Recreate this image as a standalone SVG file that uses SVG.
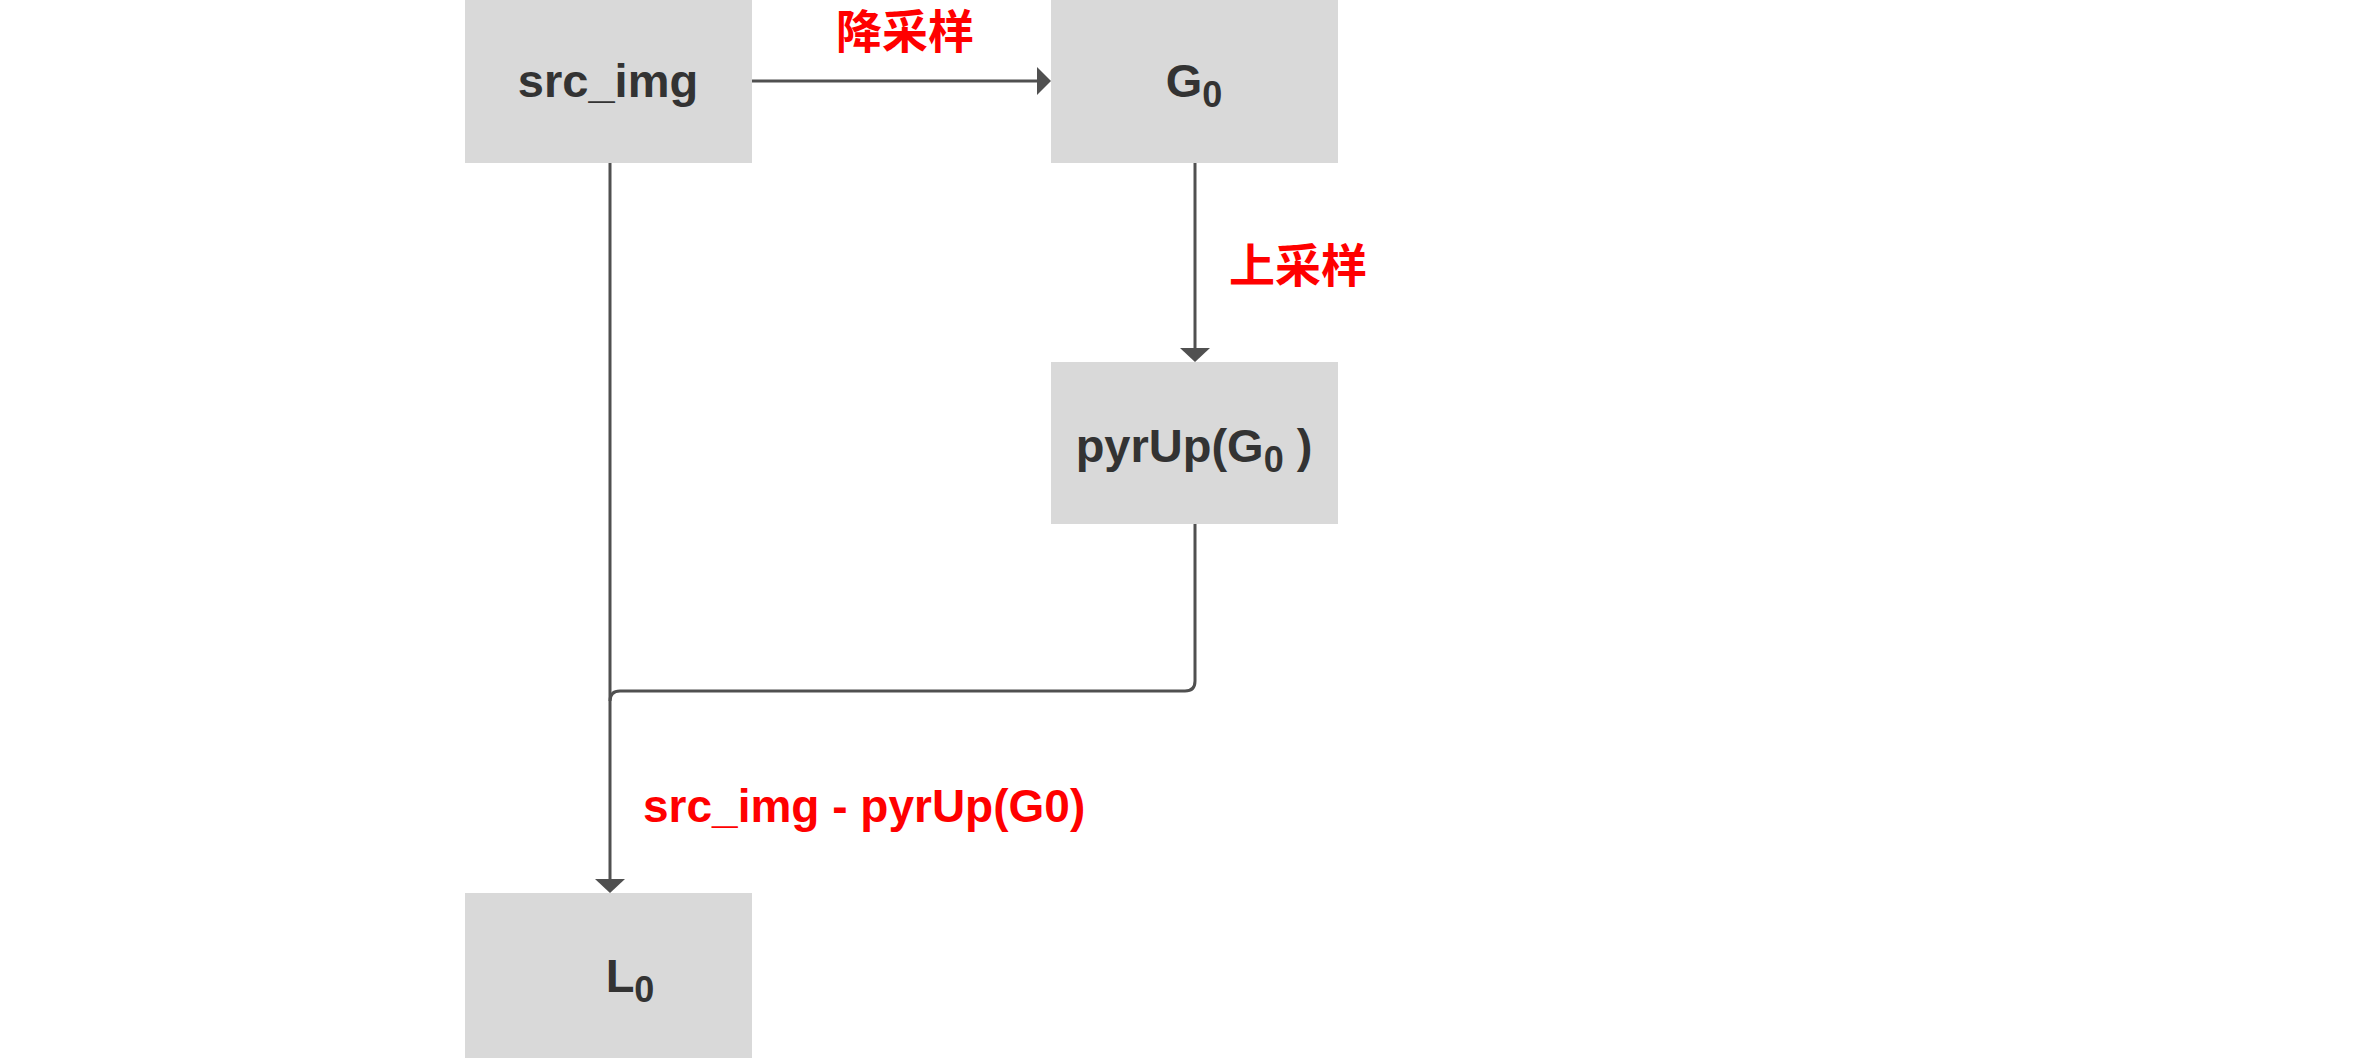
<svg xmlns="http://www.w3.org/2000/svg" width="2362" height="1058" viewBox="0 0 2362 1058">
<style>
.box{fill:#d9d9d9}
.t{font-family:"Liberation Sans",Arial,sans-serif;font-weight:bold;font-size:47px;fill:#333;text-anchor:middle}
.sub{font-size:36px}
.lbl{font-family:"Liberation Sans","Noto Sans CJK SC",sans-serif;font-weight:bold;font-size:46px;fill:#ff0000}
.ln{fill:none;stroke:#505050;stroke-width:3}
</style>
<defs>
<marker id="ah" markerWidth="10" markerHeight="10" refX="9" refY="5" orient="auto" markerUnits="userSpaceOnUse" viewBox="0 0 10 10">
<path d="M0,0 L10,5 L0,10 Z" fill="#505050"/>
</marker>
<marker id="ahv" markerWidth="30" markerHeight="14" refX="27" refY="7" orient="auto" markerUnits="userSpaceOnUse" viewBox="0 0 30 14">
<path d="M0,0 L30,7 L0,14 Z" fill="#505050" transform="scale(1)"/>
</marker>
</defs>
<rect width="2362" height="1058" fill="#fff"/>
<g id="connectors">
<path class="ln" d="M752,81 L1048,81"/>
<path d="M1037,67 L1051,81 L1037,95 Z" fill="#505050"/>
<path class="ln" d="M1195,163 L1195,350"/>
<path d="M1180,348 L1195,362 L1210,348 Z" fill="#505050"/>
<path class="ln" d="M610,163 L610,880"/>
<path d="M595,879 L610,893 L625,879 Z" fill="#505050"/>
<path class="ln" d="M1195,524 L1195,681 Q1195,691 1185,691 L620,691 Q610,691 610,701"/>
</g>
<g id="src_img"><rect class="box" x="465" y="0" width="287" height="163"/><text class="t" x="608" y="97">src_img</text></g>
<g id="G0"><rect class="box" x="1051" y="0" width="287" height="163"/><text class="t" x="1194" y="97">G<tspan class="sub" dy="10">0</tspan></text></g>
<g id="pyrUp"><rect class="box" x="1051" y="362" width="287" height="162"/><text class="t" x="1194" y="462">pyrUp(G<tspan class="sub" dy="10">0</tspan><tspan dy="-10"> )</tspan></text></g>
<g id="L0"><rect class="box" x="465" y="893" width="287" height="165"/><text class="t" x="630" y="992">L<tspan class="sub" dy="10">0</tspan></text></g>
<g id="labels">
<text class="lbl" x="836" y="48">降采样</text>
<text class="lbl" x="1229" y="282">上采样</text>
<text class="lbl" x="643" y="822">src_img - pyrUp(G0)</text>
</g>
</svg>
